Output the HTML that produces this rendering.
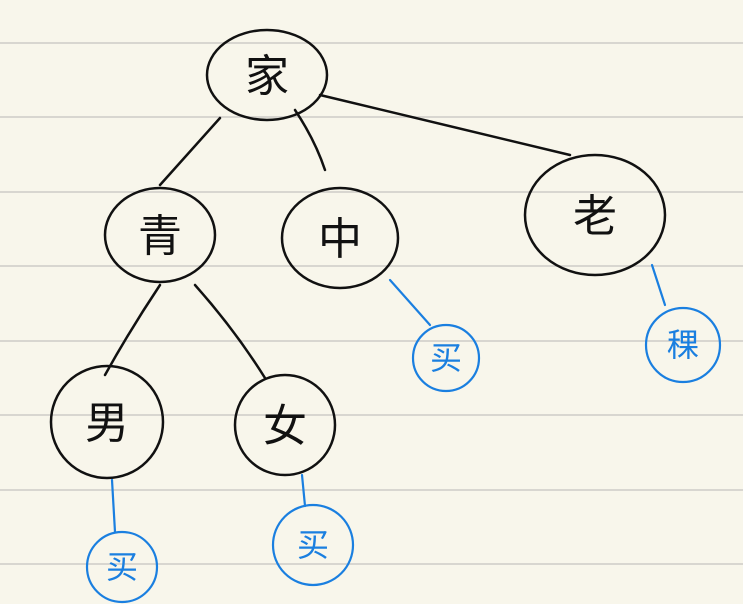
<!DOCTYPE html>
<html><head><meta charset="utf-8"><style>
html,body{margin:0;padding:0;background:#f8f6eb;}
svg{display:block}
text{font-family:"Liberation Sans","Noto Sans CJK SC",sans-serif;}
</style></head><body>
<svg width="743" height="604" viewBox="0 0 743 604" xmlns="http://www.w3.org/2000/svg">
<rect width="743" height="604" fill="#f8f6eb"/>
<g stroke="#d8d6d0" stroke-width="2">
<line x1="0" y1="43" x2="743" y2="43"/><line x1="0" y1="117" x2="743" y2="117"/>
<line x1="0" y1="192" x2="743" y2="192"/><line x1="0" y1="266" x2="743" y2="266"/>
<line x1="0" y1="341" x2="743" y2="341"/><line x1="0" y1="415" x2="743" y2="415"/>
<line x1="0" y1="490" x2="743" y2="490"/><line x1="0" y1="564" x2="743" y2="564"/>
</g>
<g fill="none" stroke="#111" stroke-width="2.5" stroke-linecap="round">
<ellipse cx="267" cy="75" rx="60" ry="45"/>
<ellipse cx="160" cy="235" rx="55" ry="47"/>
<ellipse cx="340" cy="238" rx="58" ry="50"/>
<ellipse cx="595" cy="215" rx="70" ry="60"/>
<ellipse cx="107" cy="422" rx="56" ry="56"/>
<ellipse cx="285" cy="425" rx="50" ry="50"/>
<path d="M220 118 L160 185"/><path d="M295 110 Q315 140 325 170"/>
<path d="M320 95 L570 155"/><path d="M160 285 Q130 330 105 375"/>
<path d="M195 285 Q235 330 265 378"/>
</g>
<g fill="none" stroke="#1a7fe0" stroke-width="2.2" stroke-linecap="round">
<circle cx="446" cy="358" r="33"/><circle cx="683" cy="345" r="37"/>
<circle cx="122" cy="567" r="35"/><circle cx="313" cy="545" r="40"/>
<path d="M390 280 L430 325"/><path d="M652 265 L665 305"/>
<path d="M112 480 L115 532"/><path d="M302 475 L305 506"/>
</g>
<g fill="#111" font-size="44" text-anchor="middle">
<text x="267" y="91">家</text><text x="160" y="251">青</text>
<text x="340" y="254">中</text><text x="595" y="231">老</text>
<text x="107" y="438">男</text><text x="285" y="441">女</text>
</g>
<g fill="#1a7fe0" font-size="32" text-anchor="middle">
<text x="446" y="369">买</text><text x="683" y="356">稞</text>
<text x="122" y="578">买</text><text x="313" y="556">买</text>
</g>
</svg>
</body></html>
